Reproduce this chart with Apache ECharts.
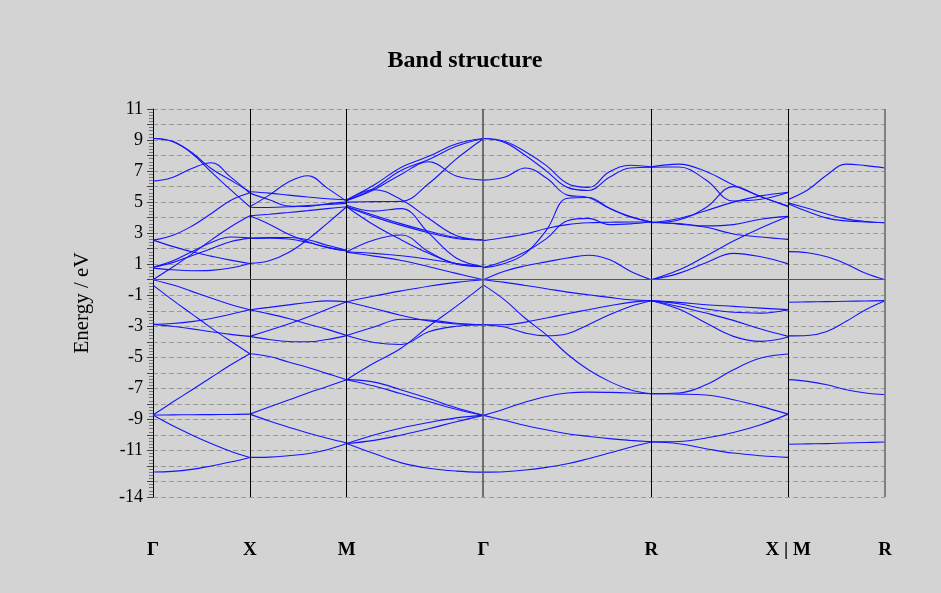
<!DOCTYPE html>
<html>
<head>
<meta charset="utf-8">
<script src="https://cdn.jsdelivr.net/npm/echarts/dist/echarts.min.js"></script>
<style>
html,body{margin:0;padding:0;background:#d3d3d3;}
#chart{width:941px;height:593px;}
</style>
</head>
<body>
<div id="chart"></div>
<script>
// High-symmetry points (path length in units of Γ–X)
const kLabels = ['Γ', 'X', 'M', 'Γ', 'R', 'X | M', 'R'];
const kPos = [0, 1, 2, 3.4142, 5.1463, 6.5605, 7.5605];

// y-axis tick labels shown
const yTickLabels = [11, 9, 7, 5, 3, 1, -1, -3, -5, -7, -9, -11, -14];

// sampling fractions along each segment
const grid6 = [0, 0.2, 0.4, 0.6, 0.8, 1];
const grid9 = [0, 0.125, 0.25, 0.375, 0.5, 0.625, 0.75, 0.875, 1];

// Γ → X
const bandsGX = [
  [9.1, 8.9, 8.15, 6.95, 5.8, 4.7],
  [9.1, 8.92, 8.2, 7.17, 6.42, 5.67],
  [6.35, 6.59, 7.17, 7.54, 6.63, 5.58],
  [2.55, 2.85, 3.45, 4.25, 5.1, 5.6],
  [2.55, 2.15, 1.8, 1.52, 1.26, 1.05],
  [0.75, 0.64, 0.58, 0.6, 0.75, 1.05],
  [0.8, 1.1, 1.55, 2.0, 2.45, 2.68],
  [0.8, 1.2, 1.8, 2.4, 2.75, 2.68],
  [0.0, 0.8, 1.65, 2.55, 3.4, 4.12],
  [0.0, -0.33, -0.75, -1.18, -1.6, -1.93],
  [-0.35, -1.3, -2.2, -3.1, -3.95, -4.77],
  [-2.88, -2.82, -2.7, -2.5, -2.22, -1.93],
  [-2.88, -3.0, -3.17, -3.35, -3.52, -3.65],
  [-8.72, -7.9, -7.1, -6.3, -5.5, -4.77],
  [-8.72, -8.71, -8.7, -8.69, -8.68, -8.66],
  [-8.72, -9.4, -10.0, -10.55, -11.05, -11.45],
  [-12.39, -12.35, -12.22, -12.0, -11.75, -11.45]
];

// X → M
const bandsXM = [
  [4.7, 5.45, 6.3, 6.7, 5.9, 5.05],
  [5.67, 5.58, 5.45, 5.33, 5.22, 5.15],
  [5.58, 5.15, 4.75, 4.72, 4.9, 5.0],
  [4.67, 4.65, 4.7, 4.78, 4.85, 4.92],
  [4.12, 4.22, 4.33, 4.45, 4.58, 4.7],
  [4.12, 3.58, 2.93, 2.44, 2.07, 1.87],
  [2.68, 2.72, 2.72, 2.58, 2.22, 1.9],
  [2.66, 2.68, 2.62, 2.4, 2.1, 1.85],
  [1.05, 1.22, 1.75, 2.6, 3.63, 4.7],
  [-1.93, -1.78, -1.62, -1.47, -1.36, -1.42],
  [-1.93, -2.2, -2.5, -2.85, -3.2, -3.6],
  [-3.65, -3.25, -2.85, -2.4, -1.9, -1.42],
  [-3.65, -3.85, -3.98, -4.0, -3.85, -3.6],
  [-4.77, -4.95, -5.3, -5.65, -6.05, -6.44],
  [-8.66, -8.2, -7.75, -7.3, -6.88, -6.44],
  [-8.66, -9.1, -9.5, -9.88, -10.22, -10.52],
  [-11.45, -11.43, -11.34, -11.21, -10.95, -10.55]
];

// M → Γ
const bandsMG = [
  [5.15, 6.1, 7.25, 7.95, 8.75, 9.1],
  [5.1, 5.9, 7.05, 7.75, 8.6, 9.1],
  [5.1, 5.8, 6.8, 7.6, 6.68, 6.42],
  [5.0, 5.03, 5.05, 6.2, 7.77, 9.1],
  [5.1, 5.8, 5.15, 3.95, 2.85, 2.56],
  [4.8, 4.42, 4.58, 3.0, 1.4, 0.84],
  [4.7, 4.15, 3.6, 3.12, 2.72, 2.56],
  [4.7, 4.05, 3.5, 3.03, 2.66, 2.56],
  [4.7, 3.52, 2.56, 1.7, 1.05, 0.84],
  [1.8, 2.56, 2.88, 1.8, 1.0, 0.84],
  [1.8, 1.7, 1.54, 1.32, 1.05, 0.84],
  [1.78, 1.52, 1.24, 0.84, 0.41, 0.0],
  [-1.42, -1.05, -0.72, -0.42, -0.17, 0.0],
  [-1.42, -1.85, -2.3, -2.65, -2.85, -2.9],
  [-3.6, -3.05, -2.55, -2.6, -2.8, -2.9],
  [-3.6, -4.04, -4.17, -3.35, -3.0, -2.9],
  [-6.44, -5.37, -4.4, -3.0, -1.72, -0.35],
  [-6.44, -6.6, -7.1, -7.65, -8.25, -8.74],
  [-6.44, -6.85, -7.35, -7.85, -8.35, -8.74],
  [-10.55, -10.0, -9.55, -9.2, -8.9, -8.74],
  [-10.55, -10.35, -10.0, -9.6, -9.15, -8.74],
  [-10.55, -11.2, -11.8, -12.15, -12.33, -12.4]
];

// Γ → R
const bandsGR = [
  [9.1, 8.92, 8.25, 7.35, 6.2, 5.95, 6.95, 7.38, 7.27],
  [9.1, 8.85, 8.0, 7.0, 5.95, 5.75, 6.6, 7.2, 7.25],
  [6.42, 6.6, 7.2, 6.55, 5.45, 5.3, 4.6, 4.05, 3.72],
  [0.78, 1.05, 1.7, 3.2, 5.25, 5.3, 4.62, 4.07, 3.72],
  [2.52, 2.72, 2.95, 3.3, 3.55, 3.67, 3.7, 3.72, 3.72],
  [0.78, 1.2, 1.8, 2.65, 3.8, 3.95, 3.55, 3.6, 3.72],
  [0.0, 0.55, 0.9, 1.15, 1.4, 1.58, 1.3, 0.55, 0.0],
  [0.0, -0.17, -0.37, -0.58, -0.8, -0.97, -1.14, -1.29, -1.35],
  [-0.35, -1.3, -2.5, -3.55, -4.8, -5.8, -6.55, -7.09, -7.35],
  [-2.9, -2.9, -2.73, -2.47, -2.19, -1.93, -1.68, -1.46, -1.35],
  [-2.9, -3.05, -3.44, -3.61, -3.48, -2.9, -2.26, -1.72, -1.35],
  [-8.74, -8.33, -7.88, -7.52, -7.3, -7.24, -7.26, -7.3, -7.35],
  [-8.74, -9.06, -9.39, -9.67, -9.92, -10.09, -10.24, -10.35, -10.44],
  [-12.4, -12.37, -12.26, -12.09, -11.86, -11.53, -11.17, -10.8, -10.46]
];

// R → X
const bandsRX = [
  [7.27, 7.45, 6.97, 6.1, 5.36, 4.71],
  [7.25, 7.26, 6.43, 5.07, 5.18, 5.62],
  [3.68, 3.85, 4.65, 6.0, 5.35, 4.75],
  [3.68, 3.95, 4.45, 5.0, 5.4, 5.64],
  [3.7, 3.62, 3.47, 3.55, 3.9, 4.08],
  [3.7, 3.58, 3.38, 2.95, 2.75, 2.6],
  [0.0, 0.62, 1.53, 2.49, 3.34, 4.08],
  [0.0, 0.41, 1.1, 1.7, 1.48, 1.02],
  [-1.35, -1.46, -1.61, -1.72, -1.83, -1.93],
  [-1.35, -1.55, -1.89, -2.1, -2.15, -1.93],
  [-1.35, -1.72, -2.15, -2.62, -3.18, -3.65],
  [-1.35, -1.89, -2.79, -3.65, -3.97, -3.69],
  [-7.35, -7.3, -6.77, -5.8, -5.05, -4.79],
  [-7.35, -7.37, -7.43, -7.73, -8.16, -8.66],
  [-10.44, -10.42, -10.2, -9.84, -9.34, -8.66],
  [-10.46, -10.57, -10.89, -11.17, -11.34, -11.45]
];

// M → R
const bandsMR = [
  [5.17, 5.78, 6.75, 7.45, 7.35, 7.2],
  [4.95, 4.6, 4.24, 3.92, 3.75, 3.68],
  [4.9, 4.39, 3.97, 3.79, 3.72, 3.68],
  [1.81, 1.74, 1.48, 1.01, 0.41, 0.0],
  [-1.45, -1.43, -1.41, -1.39, -1.37, -1.35],
  [-3.62, -3.59, -3.33, -2.68, -1.93, -1.35],
  [-6.44, -6.55, -6.77, -7.09, -7.3, -7.41],
  [-10.6, -10.58, -10.56, -10.52, -10.49, -10.46]
];

const segments = [
  [bandsGX, 0, 1, grid6],
  [bandsXM, 1, 2, grid6],
  [bandsMG, 2, 3, grid6],
  [bandsGR, 3, 4, grid9],
  [bandsRX, 4, 5, grid6],
  [bandsMR, 5, 6, grid6]
];

const FONT = 'Liberation Serif';
const series = [];
segments.forEach(([bands, i0, i1, grid]) => {
  const x0 = kPos[i0], x1 = kPos[i1];
  bands.forEach(b => {
    series.push({
      type: 'line',
      data: b.map((e, i) => [x0 + (x1 - x0) * grid[i], e]),
      smooth: 0.4,
      symbol: 'none',
      silent: true,
      animation: false,
      lineStyle: { color: '#1414ff', width: 1.1 },
      z: 3
    });
  });
});

// reference lines: high-symmetry verticals and Fermi level
const vLine = (x, color, width) => ({ xAxis: x, lineStyle: { color: color, width: width, type: 'solid' } });
series.push({
  type: 'line',
  data: [[0, 0]],
  symbol: 'none',
  silent: true,
  animation: false,
  lineStyle: { width: 0 },
  z: 2,
  markLine: {
    symbol: ['none', 'none'],
    silent: true,
    animation: false,
    label: { show: false },
    data: [
      vLine(kPos[1], '#000', 1),
      vLine(kPos[2], '#000', 1),
      vLine(kPos[3], '#555', 1.6),
      vLine(kPos[4], '#000', 1),
      vLine(kPos[5], '#000', 1),
      vLine(kPos[6], '#777', 1.8),
      { yAxis: 0, lineStyle: { color: '#555', width: 1.2, type: 'solid' } }
    ]
  }
});

const chart = echarts.init(document.getElementById('chart'), null, { renderer: 'canvas' });
chart.setOption({
  backgroundColor: '#d3d3d3',
  animation: false,
  title: {
    text: 'Band structure',
    left: 460,
    top: 44,
    textAlign: 'center',
    textStyle: { fontFamily: FONT, fontSize: 24, fontWeight: 'bold', color: '#000' }
  },
  grid: { left: 153, right: 56, top: 109, bottom: 96, containLabel: false },
  xAxis: {
    type: 'value',
    min: kPos[0],
    max: kPos[kPos.length - 1],
    axisLine: { show: true, lineStyle: { color: '#000', width: 1 } },
    axisTick: { show: false },
    splitLine: { show: false },
    axisLabel: {
      customValues: kPos,
      margin: 44,
      fontFamily: FONT,
      fontSize: 19,
      fontWeight: 'bold',
      color: '#000',
      formatter: function (v) {
        for (let i = 0; i < kPos.length; i++) {
          if (Math.abs(kPos[i] - v) < 1e-3) return kLabels[i];
        }
        return '';
      }
    }
  },
  yAxis: {
    type: 'value',
    min: -14,
    max: 11,
    interval: 1,
    name: 'Energy / eV',
    nameLocation: 'middle',
    nameGap: 60,
    nameTextStyle: { fontFamily: FONT, fontSize: 21, color: '#000' },
    axisLine: { show: true, lineStyle: { color: '#000', width: 1 } },
    axisTick: { show: true, length: 6, lineStyle: { color: '#444' } },
    minorTick: { show: true, splitNumber: 5, length: 4, lineStyle: { color: '#777' } },
    splitLine: { show: true, lineStyle: { color: '#999', width: 1, type: [5, 3] } },
    axisLabel: {
      margin: 10,
      fontFamily: FONT,
      fontSize: 18,
      color: '#000',
      formatter: function (v) {
        return yTickLabels.indexOf(v) >= 0 ? String(v) : '';
      }
    }
  },
  series: series
});
</script>
</body>
</html>
